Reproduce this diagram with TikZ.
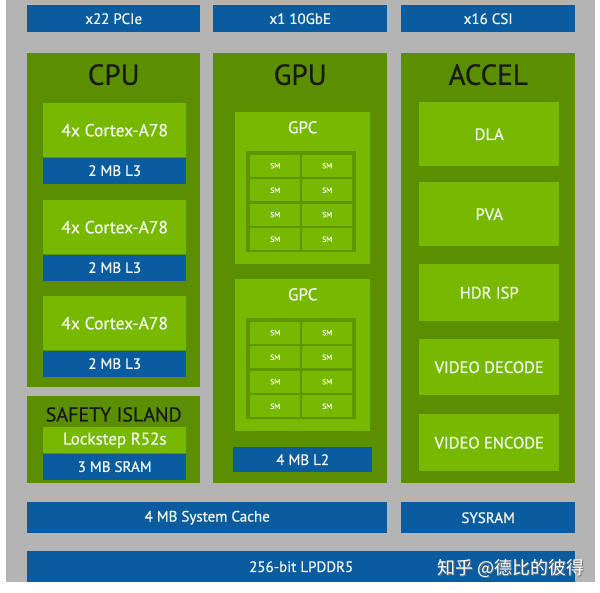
\documentclass[tikz,border=0pt]{standalone}
\usepackage{fontspec}
\setmainfont{PT Sans}
\setsansfont{PT Sans}[BoldFont={PT Sans}, BoldFeatures={FakeBold=0.6}]
\newfontfamily\cjk{Noto Sans CJK SC}
\usetikzlibrary{positioning}
\definecolor{cbg}{HTML}{B4B4B4}
\definecolor{cpanel}{HTML}{5B8F00}
\definecolor{clime}{HTML}{76B900}
\definecolor{cgrid}{HTML}{5E9600}
\definecolor{cbus}{HTML}{0B5C9E}
\definecolor{cink}{HTML}{F2F6EA}
\tikzset{
  every picture/.style={font=\sffamily\bfseries},
  blk/.style={fill=#1, anchor=north west, inner sep=0pt, text=cink, align=center},
  blk/.default=clime,
  sz/.style 2 args={minimum width=#1pt, minimum height=#2pt},
  title/.style={font=\sffamily\bfseries\fontsize{29}{29}\selectfont, text=black!90, inner sep=0pt},
  bus/.style={blk=cbus, font=\sffamily\bfseries\fontsize{15}{15}\selectfont},
}

\begin{document}
\begin{tikzpicture}[x=1pt, y=-1pt,
    unit/.style={blk=clime, font=\sffamily\bfseries\fontsize{16.5}{16.5}\selectfont},
    core/.style={blk=clime, font=\sffamily\bfseries\fontsize{17.5}{17.5}\selectfont},
    sm/.style={blk=clime, sz={50}{22}, font=\sffamily\bfseries\fontsize{7.5}{7.5}\selectfont}]
  \useasboundingbox (0,0) rectangle (600,592);
  \fill[white] (0,0) rectangle (600,592);
  \fill[cbg] (6,0) rectangle (595,582);
  % io along the top
  \node[bus, sz={173}{27}] (pcie) at (27,5) {x22 PCIe};
  \node[bus, sz={174}{27}] (gbe) at (213,5) {x1 10GbE};
  \node[bus, sz={174}{27}] (csi) at (401,5) {x16 CSI};
  % the three big panels
  \node[blk=cpanel, sz={173}{334}] (cpu) at (27,53) {};
  \node[title, below=11pt of cpu.north] (cputitle) {CPU};
  \node[blk=cpanel, sz={174}{430}] (gpu) at (213,53) {};
  \node[title, below=11pt of gpu.north] (gputitle) {GPU};
  \node[blk=cpanel, sz={174}{430}] (accel) at (401,53) {};
  \node[title, below=11pt of accel.north] (acceltitle) {ACCEL};
  % cpu clusters, each with its L3
  \foreach \y/\n in {103/1, 200/2, 296/3} {
    \node[core, sz={143}{54}] (core\n) at (43,\y) {4x Cortex-A78};
    \node[bus, sz={143}{26}] (lthree\n) at (core\n.south west) {2 MB L3};
  }
  % safety island
  \node[blk=cpanel, sz={173}{87}] (safety) at (27,396) {};
  \node[title, font=\sffamily\bfseries\fontsize{20}{20}\selectfont, below=11pt of safety.north] (safetytitle) {SAFETY ISLAND};
  \node[core, font=\sffamily\bfseries\fontsize{17}{17}\selectfont, sz={143}{26}] (lockstep) at (43,427) {Lockstep R52s};
  \node[bus, sz={143}{26}] (sram) at (lockstep.south west) {3 MB SRAM};
  % gpcs with their eight SMs
  \newcommand{\gpc}[2]{% #1 name, #2 top
    \node[blk=clime, sz={135}{152}] (#1) at (235,#2) {};
    \node[inner sep=0pt, text=cink, font=\sffamily\bfseries\fontsize{17}{17}\selectfont, below=9pt of #1.north] (#1title) {GPC};
    \node[blk=cgrid, sz={110}{101}] (#1grid) at (246,#2+39) {};
    \foreach \r in {0,...,3} \foreach \c in {0,1}
      \node[sm] (#1sm\r\c) at (250+52*\c, #2+42.5+24.5*\r) {SM};
  }
  \gpc{gpcone}{112}
  \gpc{gpctwo}{279}
  \node[bus, sz={139}{25}] (ltwo) at (233,447) {4 MB L2};
  % accelerator blocks
  \node[unit, sz={140}{64}] (dla) at (419,102) {DLA};
  \node[unit, sz={140}{64}] (pva) at (419,182) {PVA};
  \node[unit, sz={140}{57}] (isp) at (419,264) {HDR ISP};
  \node[unit, sz={140}{56}] (vdec) at (419,339) {VIDEO DECODE};
  \node[unit, sz={140}{57}] (venc) at (419,414) {VIDEO ENCODE};
  % memory along the bottom
  \node[bus, sz={360}{31}] (cache) at (27,502) {4 MB System Cache};
  \node[bus, sz={174}{31}] (sysram) at (401,502) {SYSRAM};
  \node[bus, sz={548}{31}] (dram) at (27,551) {256-bit LPDDR5};
  % watermark
  \node[anchor=east, inner sep=0pt, text=black!55, font=\cjk\fontsize{18}{18}\selectfont] (markshadow) at (586,569) {知乎 @德比的彼得};
  \node[anchor=east, inner sep=0pt, text=white, font=\cjk\fontsize{18}{18}\selectfont] (mark) at (585,568) {知乎 @德比的彼得};
\end{tikzpicture}
\end{document}
